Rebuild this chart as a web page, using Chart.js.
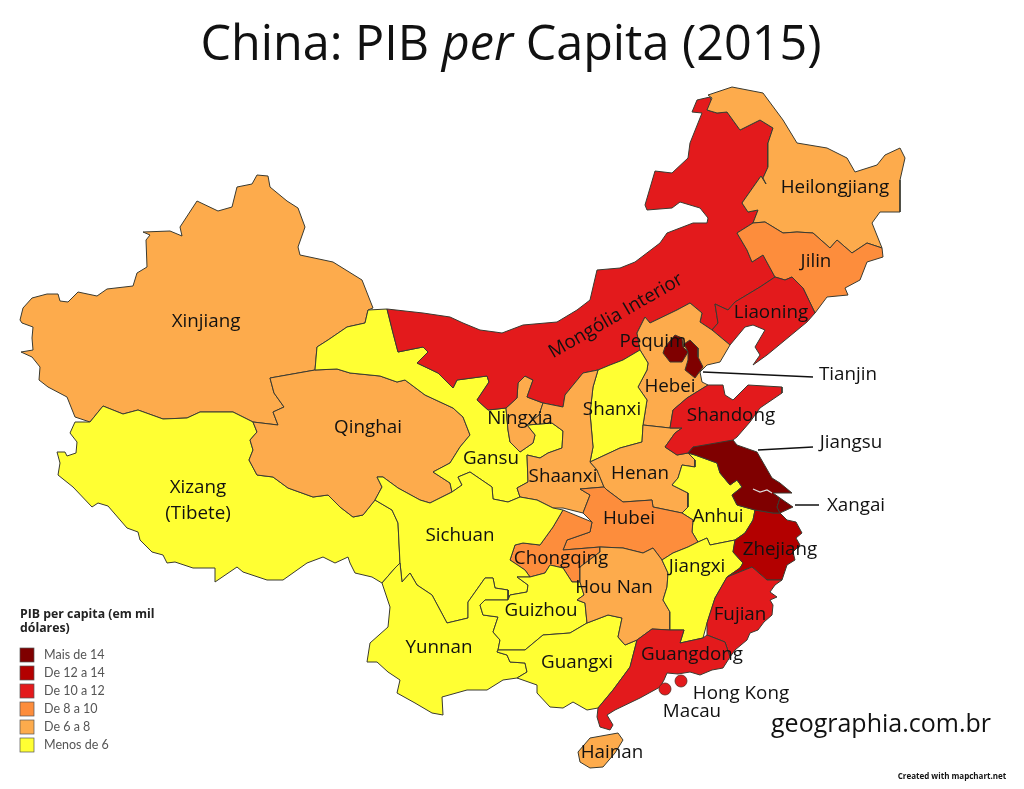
<!DOCTYPE html>
<html lang="pt">
<head>
<meta charset="utf-8">
<title>China: PIB per Capita (2015)</title>
<script src="https://cdn.jsdelivr.net/npm/chart.js@4"></script>
<style>
    body { margin: 0; background: #fff; }
    canvas { display: block; }
</style>
</head>
<body>
<canvas id="mapa" width="1024" height="789"></canvas>
<script>
// legend classes
const classes = ['Mais de 14', 'De 12 a 14', 'De 10 a 12', 'De 8 a 10', 'De 6 a 8', 'Menos de 6'];
const classColors = ['#7f0000', '#b30000', '#e31a1c', '#fd8d3c', '#fdab4c', '#ffff33'];

// province -> class index (index in classes)
const provinces = ['Xinjiang', 'Xizang', 'Qinghai', 'Gansu', 'Ningxia', 'Mongolia', 'Heilongjiang', 'Jilin', 'Liaoning',
    'Hebei', 'Shanxi', 'Shaanxi', 'Henan', 'Shandong', 'Anhui', 'Hubei', 'Chongqing', 'Sichuan', 'Yunnan', 'Guizhou',
    'Guangxi', 'Hunan', 'Jiangxi', 'Zhejiang', 'Fujian', 'Guangdong', 'Hainan', 'Jiangsu', 'Xangai', 'Pequim', 'Tianjin'];
const provinceClass = [4, 5, 4, 5, 4, 2, 4, 3, 2,
    4, 5, 4, 4, 2, 5, 3, 3, 5, 5, 5,
    5, 4, 5, 1, 2, 2, 4, 0, 0, 0, 0];

// outlines, [x, y] in map units
const xinjiang = [[20,320],[23,308],[32,298],[47,294],[58,294],[60,301],[68,302],[78,292],[97,296],[107,289],[133,286],[137,273],[147,267],[146,240],[150,235],[143,232],[170,231],[182,236],[180,227],[197,201],[218,211],[232,207],[237,187],[252,184],[257,175],[268,176],[270,187],[287,201],[298,208],[305,227],[298,247],[300,255],[333,262],[362,280],[373,308],[368,310],[365,323],[347,327],[328,340],[317,347],[315,370],[270,378],[274,393],[284,407],[273,412],[278,425],[253,422],[233,412],[200,412],[187,418],[163,419],[138,410],[123,414],[103,406],[90,422],[75,417],[67,397],[48,387],[39,380],[40,367],[32,357],[21,352],[33,350],[32,338],[33,327],[22,323]];
const xizang = [[57,452],[65,452],[67,456],[76,453],[77,442],[70,433],[75,422],[90,422],[103,406],[123,414],[138,410],[163,419],[187,418],[200,412],[233,412],[253,422],[257,432],[250,440],[253,450],[249,460],[257,475],[273,477],[288,488],[313,497],[328,495],[340,507],[353,517],[363,515],[375,500],[392,510],[398,523],[400,563],[395,568],[382,583],[372,577],[355,573],[350,563],[348,557],[335,563],[323,557],[307,563],[283,580],[267,580],[243,572],[237,567],[215,582],[215,568],[193,568],[175,562],[167,563],[163,555],[152,552],[140,540],[138,532],[127,528],[108,506],[98,503],[92,507],[73,487],[58,475],[60,463]];
const qinghai = [[270,378],[315,370],[337,369],[350,373],[380,376],[397,382],[405,380],[425,395],[453,408],[463,417],[470,435],[460,447],[450,463],[433,472],[450,483],[452,492],[430,503],[420,500],[398,488],[383,477],[377,477],[382,487],[375,500],[363,515],[353,517],[340,507],[328,495],[313,497],[288,488],[273,477],[257,475],[249,460],[253,450],[250,440],[257,432],[253,422],[278,425],[273,412],[284,407],[274,393]];
const gansu = [[315,370],[317,347],[328,340],[347,327],[365,323],[368,310],[387,309],[393,333],[398,352],[423,347],[428,352],[417,363],[438,373],[453,388],[457,380],[487,376],[489,382],[477,400],[488,410],[506,408],[508,430],[510,442],[520,452],[533,443],[535,435],[527,425],[552,423],[563,431],[562,448],[548,453],[540,458],[527,455],[528,482],[517,488],[520,497],[508,502],[493,499],[492,487],[470,472],[458,477],[462,485],[452,492],[450,483],[433,472],[450,463],[460,447],[470,435],[463,417],[453,408],[425,395],[405,380],[397,382],[380,376],[350,373],[337,369]];
const ningxia = [[525,376],[533,380],[527,397],[543,403],[539,415],[527,425],[535,435],[533,443],[520,452],[510,442],[508,430],[506,408],[517,398],[518,383]];
const mongolia = [[387,309],[423,313],[450,317],[463,323],[480,330],[495,332],[502,333],[523,325],[557,322],[577,310],[590,300],[597,270],[620,268],[635,262],[660,243],[667,233],[693,223],[707,223],[708,218],[700,208],[680,202],[672,208],[647,210],[645,205],[655,171],[672,173],[688,158],[690,143],[698,123],[702,113],[692,112],[697,100],[710,97],[712,102],[707,110],[717,113],[727,112],[740,130],[760,120],[773,128],[768,143],[768,167],[763,178],[766,184],[761,176],[742,203],[748,212],[758,210],[753,223],[737,233],[747,250],[752,262],[763,255],[775,277],[760,287],[735,302],[728,310],[715,304],[718,323],[712,330],[700,322],[702,313],[690,303],[677,310],[650,323],[645,317],[637,333],[640,350],[623,360],[610,365],[598,370],[583,373],[565,395],[563,407],[543,403],[527,397],[533,380],[525,376],[518,383],[517,398],[506,408],[488,410],[477,400],[489,382],[487,376],[457,380],[453,388],[438,373],[417,363],[428,352],[423,347],[398,352],[393,333]];
const heilongjiang = [[712,98],[708,95],[732,87],[763,93],[783,120],[797,143],[827,148],[847,158],[855,172],[877,165],[885,155],[900,148],[905,158],[900,180],[900,212],[880,212],[872,223],[882,248],[867,243],[852,253],[837,240],[830,248],[813,233],[797,232],[783,233],[765,222],[753,223],[758,210],[748,212],[742,203],[761,176],[766,184],[763,178],[768,167],[768,143],[773,128],[760,120],[740,130],[727,112],[717,113],[707,110]];
const jilin = [[753,223],[765,222],[783,233],[797,232],[813,233],[830,248],[837,240],[852,253],[867,243],[882,248],[883,257],[867,262],[860,280],[845,288],[848,295],[827,297],[815,313],[803,288],[792,277],[785,280],[775,277],[763,255],[752,262],[747,250],[737,233]];
const liaoning = [[775,277],[785,280],[792,277],[803,288],[815,313],[807,322],[767,355],[753,365],[760,355],[755,347],[765,330],[753,325],[745,327],[730,345],[712,330],[718,323],[715,304],[728,310],[735,302],[760,287]];
const hebei = [[645,317],[650,323],[677,310],[690,303],[702,313],[700,322],[712,330],[730,345],[720,362],[707,365],[700,372],[702,382],[708,385],[687,398],[673,410],[670,428],[643,425],[647,400],[638,387],[647,370],[648,363],[640,350],[637,333]];
const shanxi = [[640,350],[648,363],[647,370],[638,387],[647,400],[643,425],[642,442],[620,448],[590,462],[593,447],[590,413],[593,387],[598,370],[610,365],[623,360]];
const shaanxi = [[598,370],[593,387],[590,413],[593,447],[590,462],[597,470],[604,487],[580,489],[590,495],[583,513],[563,508],[553,508],[537,500],[520,497],[517,488],[528,482],[527,455],[540,458],[548,453],[562,448],[563,431],[552,423],[527,425],[539,415],[543,403],[563,407],[565,395],[583,373]];
const henan = [[590,462],[620,448],[642,442],[643,425],[670,428],[682,428],[675,433],[665,447],[677,455],[688,453],[695,460],[695,467],[682,465],[678,478],[672,485],[688,493],[688,507],[682,513],[653,507],[652,500],[623,502],[607,490],[604,487],[597,470]];
const shandong = [[665,447],[675,433],[682,428],[670,428],[673,410],[687,398],[708,385],[723,385],[725,395],[733,400],[748,385],[782,387],[782,393],[760,408],[750,422],[737,437],[733,440],[728,445],[713,452],[693,447],[688,453],[677,455]];
const anhui = [[688,453],[695,460],[695,467],[682,465],[678,478],[672,485],[688,493],[688,507],[682,513],[693,520],[692,532],[698,542],[707,538],[710,545],[735,540],[745,533],[753,520],[755,510],[737,505],[732,495],[742,487],[737,480],[730,485],[720,473],[717,463],[695,455]];
const hubei = [[604,487],[580,489],[590,495],[583,513],[592,522],[590,532],[567,540],[563,550],[600,547],[623,548],[643,553],[653,548],[662,560],[673,553],[688,547],[698,542],[692,532],[693,520],[682,513],[653,507],[652,500],[623,502],[607,490]];
const chongqing = [[515,545],[523,543],[540,545],[553,527],[563,510],[592,522],[590,532],[567,540],[563,550],[600,547],[600,552],[580,567],[580,582],[572,582],[563,568],[550,565],[545,573],[530,577],[525,570],[510,560]];
const sichuan = [[377,477],[382,487],[375,500],[392,510],[398,523],[400,563],[402,582],[410,573],[417,585],[432,595],[447,623],[468,618],[468,602],[485,578],[493,578],[495,588],[508,590],[508,600],[510,595],[527,592],[528,585],[517,577],[530,577],[525,570],[510,560],[515,545],[523,543],[540,545],[553,527],[563,510],[553,508],[537,500],[520,497],[508,502],[493,499],[492,487],[470,472],[458,477],[462,485],[452,492],[430,503],[420,500],[398,488],[383,477]];
const yunnan = [[395,568],[400,563],[402,582],[410,573],[417,585],[432,595],[447,623],[468,618],[468,602],[485,578],[493,578],[495,588],[508,590],[508,600],[485,600],[480,605],[483,615],[498,617],[493,632],[500,640],[498,650],[497,652],[507,655],[510,662],[525,663],[527,672],[517,678],[503,680],[487,690],[467,690],[442,697],[443,715],[432,713],[415,703],[397,693],[400,680],[388,672],[377,662],[367,662],[370,643],[388,627],[390,607],[382,583]];
const guizhou = [[572,582],[563,568],[550,565],[545,573],[530,577],[517,577],[528,585],[527,592],[510,595],[508,600],[485,600],[480,605],[483,615],[498,617],[493,632],[500,640],[498,650],[525,650],[543,635],[570,633],[587,623],[585,603],[577,600],[584,595],[580,582]];
const guangxi = [[497,652],[498,650],[525,650],[543,635],[570,633],[587,623],[608,615],[622,618],[618,637],[625,645],[637,640],[630,667],[613,690],[598,708],[587,710],[573,702],[563,708],[550,707],[537,693],[537,685],[517,678],[527,672],[525,663],[510,662],[507,655]];
const hunan = [[600,547],[623,548],[643,553],[653,548],[662,560],[668,573],[667,587],[663,600],[670,612],[670,630],[652,629],[637,640],[625,645],[618,637],[622,618],[608,615],[587,623],[585,603],[577,600],[584,595],[580,582],[580,567],[600,552]];
const jiangxi = [[662,560],[673,553],[688,547],[698,542],[707,538],[710,545],[735,540],[733,552],[743,563],[740,568],[727,577],[715,598],[707,623],[703,638],[680,643],[684,630],[670,630],[670,612],[663,600],[667,587],[668,573]];
const zhejiang = [[735,540],[745,533],[753,520],[755,510],[773,513],[780,513],[787,520],[796,522],[802,533],[796,538],[800,545],[793,552],[795,560],[787,565],[782,580],[767,580],[752,567],[727,577],[740,568],[743,563],[733,552]];
const fujian = [[727,577],[752,567],[767,580],[782,580],[775,585],[770,592],[777,597],[770,600],[773,605],[772,615],[764,622],[758,630],[750,633],[747,640],[735,650],[730,657],[725,642],[707,635],[707,623],[715,598]];
const guangdong = [[637,640],[652,629],[670,630],[684,630],[680,643],[703,638],[707,635],[725,642],[730,657],[723,668],[712,670],[700,675],[690,672],[678,674],[667,673],[664,680],[660,687],[640,698],[615,710],[607,715],[613,725],[610,730],[600,727],[597,717],[598,708],[613,690],[630,667]];
const hainan = [[578,752],[590,738],[618,733],[623,740],[615,753],[603,767],[590,768],[580,762]];
const jiangsu = [[693,447],[733,440],[737,445],[757,452],[772,478],[780,483],[792,493],[773,493],[780,498],[777,507],[780,513],[773,513],[755,510],[737,505],[732,495],[742,487],[737,480],[730,485],[720,473],[717,463],[695,455],[688,453]];
const xangai = [[780,498],[793,507],[780,513],[777,507]];
const pequim = [[663,353],[665,347],[675,335],[682,338],[683,347],[688,352],[682,362],[670,362]];
const tianjin = [[684,344],[690,340],[698,348],[698,357],[703,367],[695,378],[685,370],[688,360],[688,352]];
const outlines = [xinjiang, xizang, qinghai, gansu, ningxia, mongolia, heilongjiang, jilin, liaoning,
    hebei, shanxi, shaanxi, henan, shandong, anhui, hubei, chongqing, sichuan, yunnan, guizhou,
    guangxi, hunan, jiangxi, zhejiang, fujian, guangdong, hainan, jiangsu, xangai, pequim, tianjin];

// the two city markers
const hongKong = [681, 681];
const macau = [665, 689];
const yangtze = [[753,489],[760,492],[767,490],[772,493]];

// leader lines
const leaderTianjin = [[703,372],[813,377]];
const leaderJiangsu = [[758,450],[813,447]];
const leaderXangai = [[795,505],[819,505]];

// map labels: name, x, y
const mapLabels = [
    ['Xinjiang', 206, 322], ['Qinghai', 368, 428], ['Xizang', 198, 488], ['(Tibete)', 198, 514],
    ['Gansu', 491, 459], ['Ningxia', 520, 419], ['Sichuan', 460, 536], ['Yunnan', 439, 648],
    ['Guizhou', 541, 611], ['Guangxi', 577, 663], ['Chongqing', 561, 559], ['Shaanxi', 563, 477],
    ['Shanxi', 612, 410], ['Henan', 640, 474], ['Hebei', 670, 387], ['Pequim', 653, 342],
    ['Shandong', 731, 416], ['Anhui', 718, 517], ['Hubei', 629, 519], ['Hou Nan', 614, 588],
    ['Jiangxi', 697, 567], ['Zhejiang', 780, 550], ['Fujian', 740, 615], ['Guangdong', 692, 655],
    ['Hainan', 612, 753], ['Heilongjiang', 835, 188], ['Jilin', 816, 262], ['Liaoning', 771, 313],
    ['Tianjin', 848, 375], ['Jiangsu', 851, 443], ['Xangai', 856, 506], ['Hong Kong', 741, 694], ['Macau', 692, 712]
];

function toPoints(list) {
    return list.concat([list[0]]).map(p => ({ x: p[0], y: p[1] }));
}

function lineDataset(list, color, width) {
    return {
        data: list.map(p => ({ x: p[0], y: p[1] })),
        showLine: true, fill: false, pointRadius: 0,
        borderColor: color, borderWidth: width
    };
}

const datasets = [];
datasets.push(lineDataset(leaderTianjin, '#111', 1.5));
datasets.push(lineDataset(leaderJiangsu, '#111', 1.5));
datasets.push(lineDataset(leaderXangai, '#111', 1.5));
datasets.push(lineDataset(yangtze, '#ddd', 1.2));
[hongKong, macau].forEach(city => {
    datasets.push({
        data: [{ x: city[0], y: city[1] }],
        pointRadius: 6, pointBackgroundColor: classColors[2], pointBorderColor: '#5a2a20', pointBorderWidth: 0.8
    });
});
// small ones first so that they end up on top
for (let i = outlines.length - 1; i >= 0; i--) {
    datasets.push({
        label: provinces[i],
        data: toPoints(outlines[i]),
        showLine: true,
        fill: 'shape',
        backgroundColor: classColors[provinceClass[i]],
        borderColor: '#3a3a30',
        borderWidth: 1,
        pointRadius: 0,
        tension: 0
    });
}

const textPlugin = {
    id: 'textos',
    afterDraw(chart) {
        const c = chart.ctx, sx = chart.scales.x, sy = chart.scales.y;
        c.save();
        c.textBaseline = 'middle';
        c.fillStyle = '#111';

        // title, with the italic word
        const parts = [['China: PIB ', ''], ['per', 'italic '], [' Capita (2015)', '']];
        let w = 0;
        parts.forEach(p => { c.font = p[1] + '48.5px "Open Sans"'; w += c.measureText(p[0]).width; });
        let tx = 511 - w / 2;
        c.textAlign = 'left';
        parts.forEach(p => {
            c.font = p[1] + '48.5px "Open Sans"';
            c.fillText(p[0], tx, 46);
            tx += c.measureText(p[0]).width;
        });

        // province names
        c.textAlign = 'center';
        c.font = '18.8px "Open Sans"';
        mapLabels.forEach(l => c.fillText(l[0], sx.getPixelForValue(l[1]), sy.getPixelForValue(l[2])));

        c.save();
        c.translate(sx.getPixelForValue(616), sy.getPixelForValue(316));
        c.rotate(-30 * Math.PI / 180);
        c.fillText('Mongólia Interior', 0, 0);
        c.restore();

        c.font = '25px "Open Sans"';
        c.fillText('geographia.com.br', 881, 725);
        c.font = 'bold 8px "Open Sans"';
        c.fillText('Created with mapchart.net', 952, 777);

        // legend
        c.textAlign = 'left';
        c.font = 'bold 12.3px "Open Sans"';
        c.fillStyle = '#222';
        c.fillText('PIB per capita (em mil', 20, 614);
        c.fillText('dólares)', 20, 628);
        c.font = '12.5px Lato';
        classes.forEach((name, i) => {
            const y = 655 + i * 18;
            c.fillStyle = classColors[i];
            c.fillRect(20, y - 7, 14, 14);
            c.strokeStyle = '#555';
            c.lineWidth = 0.7;
            c.strokeRect(20, y - 7, 14, 14);
            c.fillStyle = '#555';
            c.fillText(name, 44, y);
        });
        c.restore();
    }
};

new Chart(document.getElementById('mapa').getContext('2d'), {
    type: 'scatter',
    data: { datasets },
    options: {
        responsive: false,
        animation: false,
        layout: { padding: 0, autoPadding: false },
        plugins: { legend: { display: false }, tooltip: { enabled: false } },
        scales: {
            x: { type: 'linear', min: 0, max: 1024, display: false },
            y: { type: 'linear', min: 0, max: 789, reverse: true, display: false }
        }
    },
    plugins: [textPlugin]
});
</script>
</body>
</html>
